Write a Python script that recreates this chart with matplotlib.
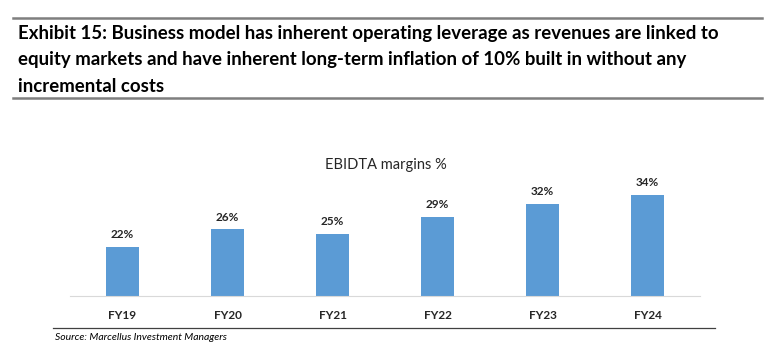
import matplotlib
matplotlib.use('Agg')
import matplotlib.pyplot as plt

years = ['FY19', 'FY20', 'FY21', 'FY22', 'FY23', 'FY24']
margins = [22, 26, 25, 29, 32, 34]

title_lines = [
    'Exhibit 15: Business model has inherent operating leverage as revenues are linked to',
    'equity markets and have inherent long-term inflation of 10% built in without any',
    'incremental costs',
]
chart_title = 'EBIDTA margins %'
source = 'Source: Marcellus Investment Managers'

font = 'Lato'
W, H = 768, 359
fig = plt.figure(figsize=(W / 100, H / 100), dpi=100)


def fx(px):
    return px / W


def fy(py):
    return 1 - py / H


# header rules
fig.add_artist(plt.Line2D([fx(13), fx(762)], [fy(18), fy(18)], color='#7f7f7f', lw=1.8))
fig.add_artist(plt.Line2D([fx(13), fx(762)], [fy(98), fy(98)], color='#7f7f7f', lw=1.8))

# size the title so its first line spans the same width as in the exhibit
renderer = fig.canvas.get_renderer()
probe = fig.text(0, 0, title_lines[0], family=font, fontweight='bold', fontsize=13)
w = probe.get_window_extent(renderer).width
probe.remove()
title_size = 13 * 698 / w

for i, line in enumerate(title_lines):
    fig.text(fx(18), fy(33 + 27 * i), line, family=font, fontweight='bold',
             fontsize=title_size, va='center', ha='left', color='black')

# chart area
ax = fig.add_axes([fx(70), fy(296), fx(630), (296 - 175) / H])
ax.bar(range(len(years)), margins, width=0.305, color='#5B9BD5')
ax.set_xlim(-0.5, len(years) - 0.5)
ax.set_ylim(10.56, 10.56 + (296 - 175) / 4.31)
for i, v in enumerate(margins):
    ax.annotate(f'{v}%', (i, v), xytext=(0, 5), textcoords='offset points',
                ha='center', va='bottom', fontsize=8.5, fontweight='bold',
                family=font, color='#262626')
ax.set_xticks(range(len(years)))
ax.set_xticklabels(years, fontsize=8.5, fontweight='bold', family=font, color='#262626')
ax.tick_params(axis='x', length=0, pad=10)
ax.set_yticks([])
for s in ['top', 'left', 'right']:
    ax.spines[s].set_visible(False)
ax.spines['bottom'].set_color('#d9d9d9')
ax.set_facecolor('none')

fig.text(fx(386), fy(165), chart_title, family=font, fontsize=10.5,
         ha='center', va='center', color='#262626')

# footer
fig.add_artist(plt.Line2D([fx(53), fx(715)], [fy(328), fy(328)], color='#404040', lw=0.9))
fig.text(fx(55), fy(338), source, family=font, fontsize=7.5, style='italic',
         ha='left', va='center', color='black')

fig.savefig('out.png', dpi=100)
